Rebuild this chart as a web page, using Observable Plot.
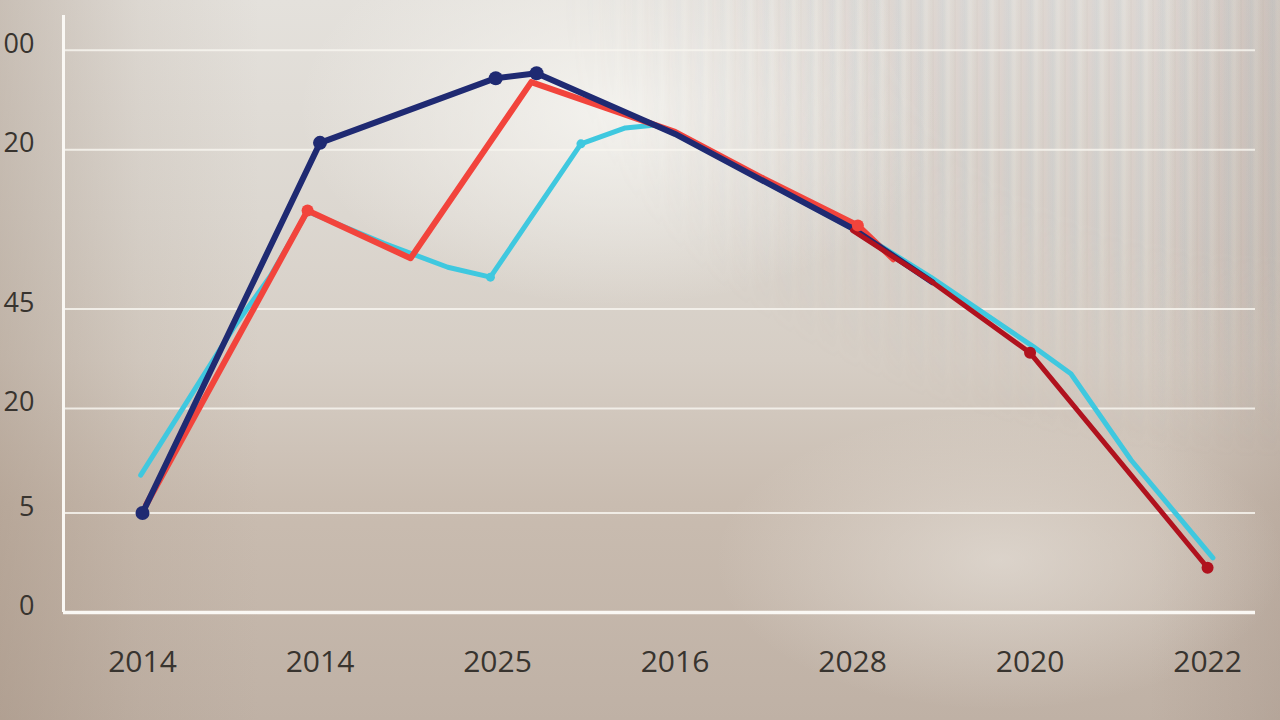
<!DOCTYPE html>
<html>
<head>
<meta charset="utf-8">
<script src="https://cdn.jsdelivr.net/npm/d3@7"></script>
<script src="https://cdn.jsdelivr.net/npm/@observablehq/plot@0.6"></script>
<style>
  html, body { margin: 0; padding: 0; }
  #bg {
    position: relative; width: 1280px; height: 720px; overflow: hidden;
    background:
      radial-gradient(ellipse 460px 280px at 620px 110px, rgba(246,245,241,0.9), rgba(246,245,241,0) 70%),
      radial-gradient(ellipse 380px 200px at 1000px 560px, rgba(236,232,226,0.55), rgba(236,232,226,0) 75%),
      linear-gradient(90deg, rgba(150,128,110,0.35) 0px, rgba(150,128,110,0.10) 140px, rgba(150,128,110,0) 260px, rgba(0,0,0,0) 1150px, rgba(150,130,118,0.25) 1280px),
      linear-gradient(180deg, #e4e1dc 0%, #dcd7d0 30%, #d6cec5 50%, #c9bcb0 70%, #bfb1a5 100%);
  }
  #shelf {
    position: absolute; left: 560px; top: 0; width: 720px; height: 460px;
    background:
      repeating-linear-gradient(90deg, rgba(180,120,120,0.10) 0px, rgba(120,140,160,0.12) 9px, rgba(200,190,180,0.05) 14px, rgba(150,110,100,0.12) 22px);
    -webkit-mask-image: radial-gradient(ellipse 720px 460px at 100% 0%, #000 55%, transparent 100%);
    mask-image: radial-gradient(ellipse 720px 460px at 100% 0%, #000 55%, transparent 100%);
  }
  #chart { position: absolute; left: 0; top: 0; }
</style>
</head>
<body>
<div id="bg"><div id="shelf"></div><div id="chart"></div></div>
<script>
// Category tick labels (x positions are indices 0..6)
const xLabels = ["2014", "2014", "2025", "2016", "2028", "2020", "2022"];
const xTicks = [0, 1, 2, 3, 4, 5, 6];

// Y tick values (hidden numeric scale) and the labels printed beside them
const yTicks = [0, 10, 20.5, 30.5, 46.5, 56.5];
const yLabels = ["0", "5", "20", "45", "20", "00"];

// Series (x in category-index units, y in the hidden numeric scale)
const navyX = [0, 1, 1.99, 2.22, 3, 4, 4.45];
const navyY = [10, 47.2, 53.7, 54.2, 48.1, 38.6, 33.2];
const navyMark = [1, 1, 1, 1, 0, 0, 0];

const redX = [0.02, 0.93, 1.51, 2.19, 3, 3.5, 4.03, 4.23];
const redY = [10.8, 40.4, 35.6, 53.3, 48.3, 43.6, 38.9, 35.5];
const redMark = [0, 1, 0, 0, 0, 0, 1, 0];

const cyanX = [-0.01, 0.52, 0.72, 0.93, 1.36, 1.72, 1.96, 2.47, 2.72, 2.89, 3, 4, 4.44, 5.02, 5.23, 5.57, 6.03];
const cyanY = [13.8, 28.8, 33.8, 40.3, 37.1, 34.7, 33.7, 47.1, 48.7, 49.0, 48.1, 38.6, 33.7, 26.7, 24.0, 15.3, 5.5];
const cyanMark = [0, 0, 0, 0, 0, 0, 1, 1, 0, 0, 0, 0, 0, 0, 0, 0, 0];

const darkX = [4, 4.45, 5, 6];
const darkY = [38.4, 33.2, 26.1, 4.5];
const darkMark = [0, 0, 1, 1];

const toRows = (xs, ys, ms) => xs.map((x, i) => ({x, y: ys[i], m: ms[i]}));
const navy = toRows(navyX, navyY, navyMark);
const red = toRows(redX, redY, redMark);
const cyan = toRows(cyanX, cyanY, cyanMark);
const dark = toRows(darkX, darkY, darkMark);

const C = {navy: "#1f2a72", red: "#f2443c", cyan: "#3fc8df", dark: "#b0121e"};

const lineOpts = (color, w) => ({x: "x", y: "y", stroke: color, strokeWidth: w, strokeLinejoin: "round", strokeLinecap: "round"});

const plot = Plot.plot({
  width: 1280,
  height: 720,
  marginLeft: 63,
  marginRight: 25,
  marginTop: 15,
  marginBottom: 108,
  style: {background: "transparent", fontFamily: "'Open Sans', sans-serif", overflow: "visible"},
  x: {type: "linear", domain: [-0.445, 6.27], axis: null},
  y: {type: "linear", domain: [0, 60], axis: null},
  marks: [
    Plot.ruleY(yTicks.slice(1), {stroke: "#f7f4ee", strokeWidth: 2, strokeOpacity: 0.85}),
    Plot.ruleY([0], {stroke: "#faf8f4", strokeWidth: 3.5}),
    Plot.ruleX([-0.445], {y1: 0, y2: 60, stroke: "#faf8f4", strokeWidth: 3}),
    Plot.axisX({ticks: xTicks, tickFormat: d => xLabels[d], tickSize: 0, tickPadding: 38, fontSize: 30, fill: "#38342f", label: null}),
    Plot.axisY({ticks: yTicks, tickFormat: d => yLabels[yTicks.indexOf(d)], tickSize: 0, tickPadding: 29, fontSize: 27, dy: -6, fill: "#38342f", label: null}),
    Plot.line(cyan, lineOpts(C.cyan, 5)),
    Plot.line(red, lineOpts(C.red, 6)),
    Plot.line(navy, lineOpts(C.navy, 6)),
    Plot.line(dark, lineOpts(C.dark, 5)),
    Plot.dot(cyan.filter(d => d.m), {x: "x", y: "y", r: 4.5, fill: C.cyan}),
    Plot.dot(red.filter(d => d.m), {x: "x", y: "y", r: 6, fill: C.red}),
    Plot.dot(navy.filter(d => d.m), {x: "x", y: "y", r: 7, fill: C.navy}),
    Plot.dot(dark.filter(d => d.m), {x: "x", y: "y", r: 6, fill: C.dark})
  ]
});
document.getElementById("chart").appendChild(plot);
</script>
</body>
</html>
